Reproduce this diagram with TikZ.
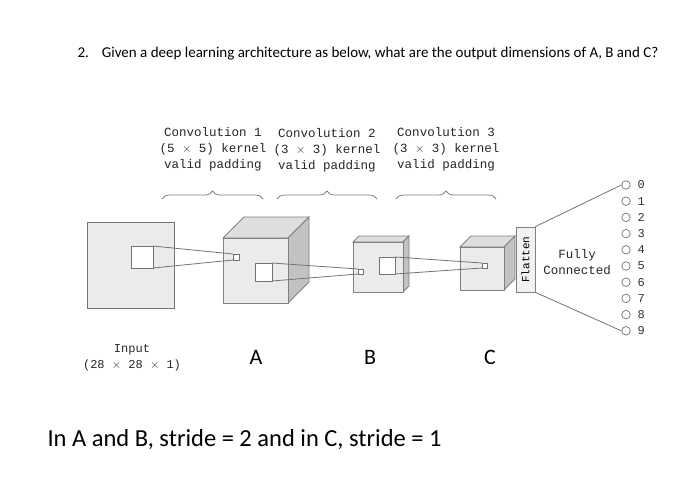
\documentclass[tikz,border=0pt]{standalone}
\usepackage{fontspec}
\setmainfont{Carlito}
\newfontfamily\mono{Liberation Mono}
\usetikzlibrary{decorations.pathreplacing,calc}
% args: left, top, right, bottom, depth
\newcommand\mycube[5]{%
 \filldraw[fill=black!13,draw=gray,line width=0.8pt] (#1,#2) -- ($(#1,#2)+(#5,-#5)$) -- ($(#3,#2)+(#5,-#5)$) -- (#3,#2) -- cycle;
 \filldraw[fill=black!24,draw=gray,line width=0.8pt] (#3,#2) -- ($(#3,#2)+(#5,-#5)$) -- ($(#3,#4)+(#5,-#5)$) -- (#3,#4) -- cycle;
 \draw[gray,fill=black!8,line width=0.8pt] (#1,#2) rectangle (#3,#4);}
\begin{document}
\begin{tikzpicture}[x=1pt,y=-1pt,
 ln/.style={draw=gray!90!black,line width=0.8pt},
 cv/.style={font=\mono\fontsize{12.5}{16}\selectfont,align=center,text=black!85},
 big/.style={font=\fontsize{22}{24}\selectfont},
 dot/.style={circle,draw=gray,line width=0.8pt,minimum size=8.5pt,inner sep=0pt},
 br/.style={draw=gray,line width=0.8pt,decorate,decoration={brace,amplitude=8pt}}]
\useasboundingbox (0,0) rectangle (700,492);
\node[anchor=west,font=\fontsize{15}{16}\selectfont] (q) at (74,54) {2.\hspace{13pt}Given a deep learning architecture as below, what are the output dimensions of A, B and C?};
% input
\draw[ln,fill=black!8] (87,222) rectangle (174,308);
\draw[ln,fill=white] (131,246) rectangle (153,268);
% cube A
\mycube{223}{238}{288}{303}{21}
\draw[ln,fill=white] (233,254) rectangle (239,260);
\draw[ln] (153,246) -- (233,254) (153,268) -- (233,260);
% cube B
\mycube{353}{242}{403}{292}{6}
\draw[ln,fill=white] (255,263) rectangle (272,281);
\draw[ln,fill=white] (358,269) rectangle (363,274);
\draw[ln] (272,263) -- (358,269) (272,281) -- (358,274);
% cube C
\mycube{460}{247}{504}{290}{11}
\draw[ln,fill=white] (379,257) rectangle (395,274);
\draw[ln,fill=white] (482,263) rectangle (487,268);
\draw[ln] (395,257) -- (482,263) (395,274) -- (482,268);
% flatten
\node[draw=gray,line width=0.8pt,fill=black!5,minimum width=65pt,minimum height=19pt,inner sep=0pt,rotate=90,font=\mono\fontsize{11}{12}\selectfont] (fl) at (525.5,259.5) {Flatten};
\node[cv] (fc) at (577,262) {Fully\\Connected};
\foreach \i in {0,...,9}{
 \node[dot] (o\i) at (626,{185+16.2*\i}) {};
 \node[anchor=west,font=\mono\fontsize{12}{12}\selectfont,text=black!80] (l\i) at (634,{185+16.2*\i}) {\i};}
\draw[ln] (fl.south east) -- (o0.west) (fl.south west) -- (o9.west);
% braces
\draw[br] (162,199) -- (263,199);
\draw[br] (277,199) -- (377,199);
\draw[br] (396,199) -- (496,199);
\node[cv] (c1) at (213,149) {Convolution 1\\(5 $\times$ 5) kernel\\valid padding};
\node[cv] (c2) at (327,150) {Convolution 2\\(3 $\times$ 3) kernel\\valid padding};
\node[cv] (c3) at (446,149) {Convolution 3\\(3 $\times$ 3) kernel\\valid padding};
\node[cv,font=\mono\fontsize{12}{16}\selectfont] (in) at (132,358) {Input\\(28 $\times$ 28 $\times$ 1)};
\node[big] (A) at (256,357) {A};
\node[big] (B) at (370,357) {B};
\node[big] (C) at (490,357) {C};
\node[anchor=west,font=\fontsize{24.5}{26}\selectfont] (s) at (44,440) {In A and B, stride = 2 and in C, stride = 1};
\end{tikzpicture}
\end{document}
